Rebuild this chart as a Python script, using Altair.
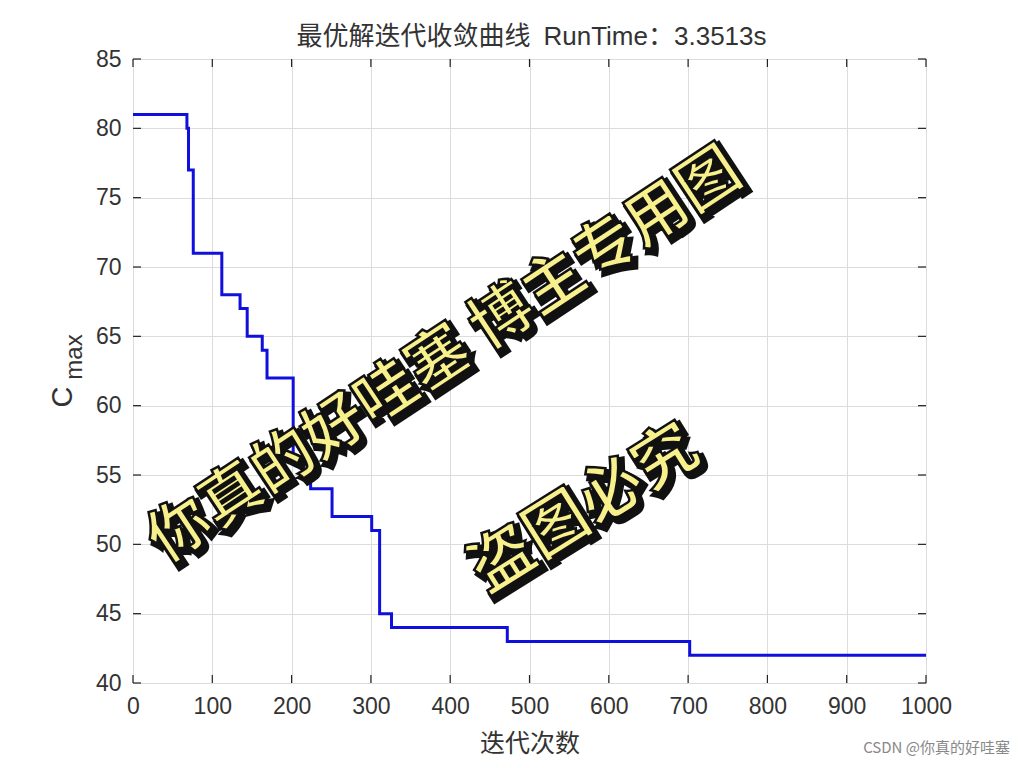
import altair as alt
import pandas as pd

# step change points of the best-solution curve
iters = [0, 68, 70, 76, 112, 135, 144, 163, 169, 202, 214, 224, 251, 301, 311, 326, 472, 702, 1000]
cmax = [81, 80, 77, 71, 68, 67, 65, 64, 62, 56, 55, 54, 52, 51, 45, 44, 43, 42, 42]

x_ticks = [0, 100, 200, 300, 400, 500, 600, 700, 800, 900, 1000]
y_ticks = [40, 45, 50, 55, 60, 65, 70, 75, 80, 85]

title_text = "最优解迭代收敛曲线\u2002RunTime：3.3513s"
x_title = "迭代次数"
wm_line1 = "你真的好哇塞 博主专用图"
wm_line2 = "盗图必究"
csdn = "CSDN @你真的好哇塞"

df = pd.DataFrame({"iter": iters, "cmax": cmax})
dx = pd.DataFrame({"t": x_ticks})
dy = pd.DataFrame({"t": y_ticks})

W, H = 793, 624
CJK = "Noto Sans CJK SC"
LAT = "Liberation Sans"
MIX = "Liberation Sans, Noto Sans CJK SC"
TK = 8

xs = alt.Scale(domain=[0, 1000], nice=False)
ys = alt.Scale(domain=[40, 85], nice=False, zero=False)

line = alt.Chart(df).mark_line(
    interpolate="step-after", color="#1010dc", strokeWidth=3, clip=True
).encode(
    x=alt.X("iter:Q", scale=xs,
            axis=alt.Axis(values=x_ticks, format="d", title=x_title, titleFont=CJK, titleFontSize=25,
                          titleFontWeight="normal", titleColor="#333", titlePadding=13,
                          labelFont=LAT, labelFontSize=23, labelColor="#333", labelPadding=12,
                          labelFlush=False, labelOverlap=False,
                          grid=True, gridColor="#dcdcdc", domain=False, ticks=False)),
    y=alt.Y("cmax:Q", scale=ys,
            axis=alt.Axis(values=y_ticks, title=None,
                          labelFont=LAT, labelFontSize=23, labelColor="#333", labelPadding=12,
                          labelFlush=False,
                          grid=True, gridColor="#dcdcdc", domain=False, ticks=False)),
)

# inward tick marks on all four sides
tb = alt.Chart(dx).mark_rule(color="#222", strokeWidth=1.2).encode(
    x=alt.X("t:Q", scale=xs), y=alt.value(H), y2=alt.value(H - TK))
tt = alt.Chart(dx).mark_rule(color="#222", strokeWidth=1.2).encode(
    x=alt.X("t:Q", scale=xs), y=alt.value(0), y2=alt.value(TK))
tl = alt.Chart(dy).mark_rule(color="#222", strokeWidth=1.2).encode(
    y=alt.Y("t:Q", scale=ys), x=alt.value(0), x2=alt.value(TK))
tr = alt.Chart(dy).mark_rule(color="#222", strokeWidth=1.2).encode(
    y=alt.Y("t:Q", scale=ys), x=alt.value(W), x2=alt.value(W - TK))

one = df.head(1)
title_mark = alt.Chart(one).mark_text(
    text=title_text, font=MIX, fontSize=26, color="#333", align="center", baseline="middle"
).encode(x=alt.value(W / 2 + 2), y=alt.value(-22))

ylab_c = alt.Chart(one).mark_text(
    text="C", font=LAT, fontSize=29, color="#333", angle=270, align="center", baseline="alphabetic"
).encode(x=alt.value(-61), y=alt.value(338))
ylab_sub = alt.Chart(one).mark_text(
    text="max", font=LAT, fontSize=24, color="#333", angle=270, align="center", baseline="alphabetic"
).encode(x=alt.value(-51), y=alt.value(298))


def wm(text, x, y, size, ang):
    shadow = alt.Chart(one).mark_text(
        text=text, font=CJK, fontSize=size, fontWeight="bold", angle=ang,
        fill="#111", stroke="#111", strokeWidth=6, align="center", baseline="middle"
    ).encode(x=alt.value(x + 4), y=alt.value(y + 4))
    front = alt.Chart(one).mark_text(
        text=text, font=CJK, fontSize=size, fontWeight="bold", angle=ang,
        fill="#f7f08c", stroke="#111", strokeWidth=2.5, align="center", baseline="middle"
    ).encode(x=alt.value(x), y=alt.value(y))
    return shadow + front


wm1 = wm(wm_line1, 312, 297, 62, 326.5)
wm2 = wm(wm_line2, 452, 451, 64, 328)

csdn_text = alt.Chart(one).mark_text(
    text=csdn, font=CJK, fontSize=15, color="#888", align="right", baseline="middle"
).encode(x=alt.value(877), y=alt.value(689))

chart = alt.layer(line, tb, tt, tl, tr, title_mark, ylab_c, ylab_sub, wm1, wm2, csdn_text).properties(
    width=W, height=H,
    autosize=alt.AutoSizeParams(type="none"),
    padding={"left": 125, "top": 51, "right": 90, "bottom": 80},
).configure_view(stroke="#222", strokeWidth=1.2).configure(background="white")

chart.save("out.html", embed_options={"renderer": "svg", "actions": False})
